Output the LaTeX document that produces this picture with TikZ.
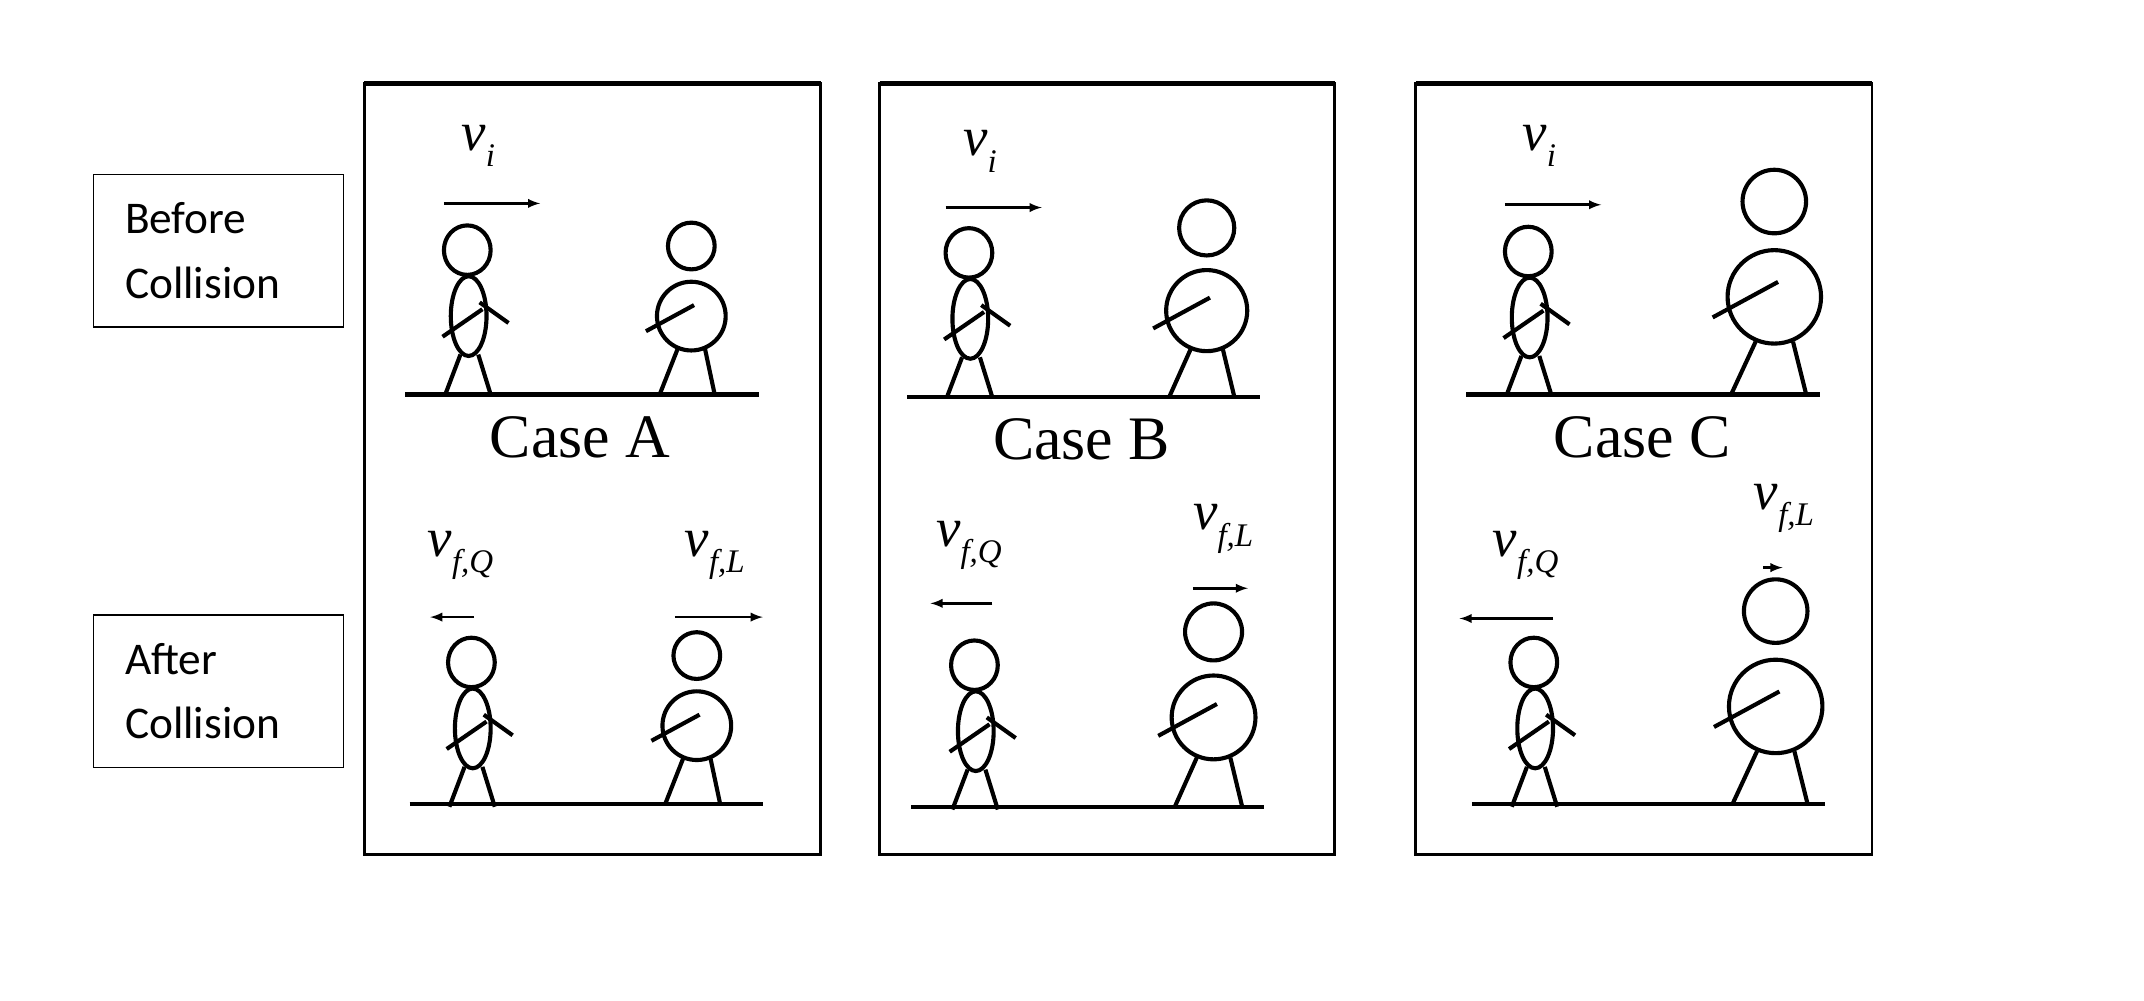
\documentclass[tikz,border=0pt]{standalone}
\usepackage{fontspec}
\setmainfont{Liberation Serif}
\newfontfamily\calib{Carlito}
\newcommand\smallguy[2]{\begin{scope}[shift={(#1,#2)}]
 \draw (0,0) ellipse[x radius=17,y radius=18];
 \draw (1,48) ellipse[x radius=13,y radius=29];
 \draw (-5,76)--(-16,105) (8,76)--(17,105);
 \draw (9,38)--(30,53) (-18,63)--(11,43);
\end{scope}}
\newcommand\bigguy[4]{\begin{scope}[shift={(#1,#2)},scale=#3]
 \draw (0,-51) circle[radius=17];
 \draw (0,0) circle[radius=25];
 \draw (-33,11)--(2,-8);
 \draw (-10,24)--(-23,#4) (10,24)--(17,#4);
\end{scope}}
\newcommand\vlab[1]{{\fontsize{40}{40}\selectfont\itshape v}\raisebox{-12pt}{\fontsize{24}{24}\selectfont\itshape #1}}
\begin{document}
\begin{tikzpicture}[x=1pt,y=-1pt,line width=3pt,
  lbl/.style={draw,line width=1.2pt,minimum width=182pt,minimum height=111pt,text width=136pt,align=left,font=\calib\fontsize{33}{47}\selectfont},
  frame/.style={draw,line width=2pt},
  arr/.style={-latex,line width=2pt},
  vl/.style={inner sep=0pt},
  case/.style={font=\fontsize{45}{45}\selectfont}]
\useasboundingbox (0,0) rectangle (1560,728);
\node[lbl] (before) at (159,182.5) {Before\\Collision};
\node[lbl] (after) at (159,503) {After\\Collision};
% frames
\draw[frame] (265,61) rectangle (597,622);
\draw[frame] (640,61) rectangle (971,622);
\draw[frame] (1030,61) rectangle (1362,622);
\draw[line width=3.5pt] (265,61)--(597,61) (640,61)--(971,61) (1030,61)--(1362,61);
% Case A
\draw (295,287)--(552,287);
\smallguy{340}{182}
\bigguy{503}{230}{1}{57}
\draw[arr] (323,148)--(393,148);
\node[vl] (viA) at (348,106) {\vlab{i}};
\node[case] (caseA) at (422,318) {Case A};
\draw (298,585)--(555,585);
\smallguy{343}{482}
\bigguy{507}{528}{1}{57}
\draw[arr] (345,449)--(313,449);
\draw[arr] (491,449)--(555,449);
\node[vl] (vfqA) at (335,404) {\vlab{f,Q}};
\node[vl] (vflA) at (520,404) {\vlab{f,L}};
% Case B
\draw (660,289)--(917,289);
\smallguy{705}{184}
\bigguy{878}{226}{1.18}{53}
\draw[arr] (688,151)--(758,151);
\node[vl] (viB) at (713,110) {\vlab{i}};
\node[case] (caseB) at (787,320) {Case B};
\draw (663,587)--(920,587);
\smallguy{709}{484}
\bigguy{883}{522}{1.22}{53}
\draw[arr] (722,439)--(677,439);
\draw[arr] (868,428)--(908,428);
\node[vl] (vfqB) at (705,397) {\vlab{f,Q}};
\node[vl] (vflB) at (890,385) {\vlab{f,L}};
% Case C
\draw (1067,287)--(1324,287);
\smallguy{1112}{183}
\bigguy{1291}{216}{1.36}{52}
\draw[arr] (1095,149)--(1165,149);
\node[vl] (viC) at (1120,106) {\vlab{i}};
\node[case] (caseC) at (1195,318) {Case C};
\draw (1071,585)--(1328,585);
\smallguy{1116}{482}
\bigguy{1292}{514}{1.36}{52}
\draw[arr] (1130,450)--(1062,450);
\draw[arr] (1283,413)--(1297,413);
\node[vl] (vfqC) at (1110,404) {\vlab{f,Q}};
\node[vl] (vflC) at (1298,370) {\vlab{f,L}};
\end{tikzpicture}
\end{document}
